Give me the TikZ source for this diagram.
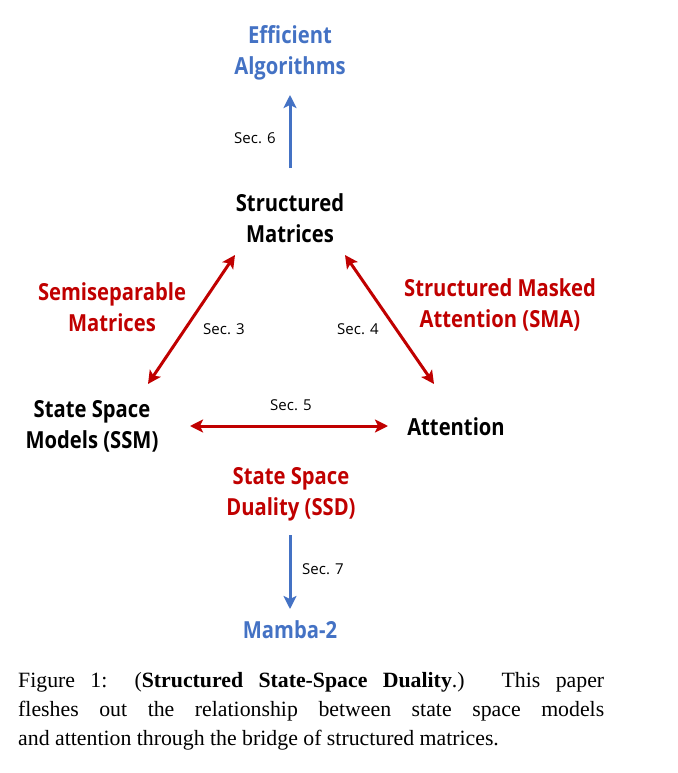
\documentclass[tikz,border=0pt]{standalone}
\usepackage{fontspec}
\setmainfont{Liberation Serif}
\newfontfamily\dfont[FakeStretch=0.86]{Open Sans}
\newfontfamily\sfont{Open Sans}
\usetikzlibrary{arrows.meta}
\definecolor{dred}{RGB}{192,0,0}
\definecolor{dblue}{RGB}{68,114,196}
\begin{document}
\begin{tikzpicture}[x=1pt,y=-1pt,
  lbl/.style={font=\dfont\bfseries\fontsize{23.5}{31}\selectfont,align=center,inner sep=0pt},
  sec/.style={font=\sfont\fontsize{15}{18}\selectfont,inner sep=0pt},
  arr/.style={line width=3pt,-{Stealth[length=13pt,width=13pt,inset=3pt]}},
  darr/.style={line width=3pt,dred,{Stealth[length=13pt,width=13pt,inset=3pt]}-{Stealth[length=13pt,width=13pt,inset=3pt]}}]
\useasboundingbox (0,0) rectangle (677,773);
\node[lbl,dblue] (ea) at (290,53) {Efficient\\Algorithms};
\node[lbl] (sm) at (290,218) {Structured\\Matrices};
\node[lbl] (ssm) at (92,426) {State Space\\Models (SSM)};
\node[lbl] (att) at (456,427) {Attention};
\node[lbl,dred] (semi) at (112,307) {Semiseparable\\Matrices};
\node[lbl,dred] (sma) at (500,305) {Structured Masked\\Attention (SMA)};
\node[lbl,dred] (ssd) at (291,494) {State Space\\Duality (SSD)};
\node[lbl,dblue] (mamba) at (290,630) {Mamba-2};
\node[sec] (s6) at (255,138) {Sec. 6};
\node[sec] (s3) at (224,329) {Sec. 3};
\node[sec] (s4) at (358,329) {Sec. 4};
\node[sec] (s5) at (291,405) {Sec. 5};
\node[sec] (s7) at (323,569) {Sec. 7};
\coordinate (a1) at (290,168); \coordinate (a2) at (290,95);
\draw[arr,dblue] (a1) -- (a2);
\coordinate (b1) at (235,255); \coordinate (b2) at (148,384);
\draw[darr] (b1) -- (b2);
\coordinate (c1) at (345,255); \coordinate (c2) at (434,384);
\draw[darr] (c1) -- (c2);
\coordinate (d1) at (190,426); \coordinate (d2) at (388,426);
\draw[darr] (d1) -- (d2);
\coordinate (e1) at (290,535); \coordinate (e2) at (290,609);
\draw[arr,dblue] (e1) -- (e2);
\node[anchor=north west,inner sep=0pt,text width=586pt,align=justify,font=\fontsize{21.8}{29}\selectfont] (cap) at (18,672)
{Figure 1: (\textbf{Structured State-Space Duality}.) This paper\linebreak fleshes out the relationship between state space models\linebreak and attention through the bridge of structured matrices.};
\end{tikzpicture}
\end{document}
